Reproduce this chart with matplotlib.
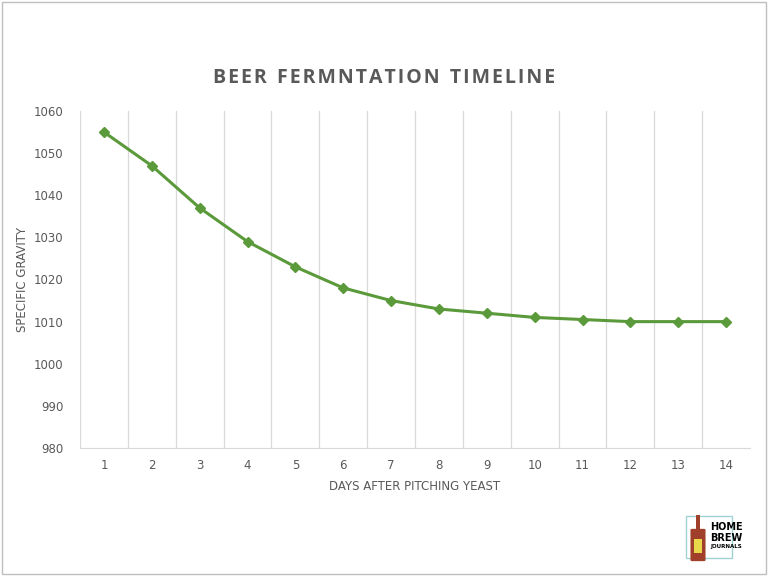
import matplotlib.pyplot as plt
from matplotlib.patches import Rectangle, FancyBboxPatch

days = list(range(1, 15))
gravity = [1055, 1047, 1037, 1029, 1023, 1018, 1015, 1013, 1012, 1011, 1010.5, 1010, 1010, 1010]
y_ticks = list(range(980, 1061, 10))

GREEN = "#5b9a3a"
GREY = "#595959"

fig = plt.figure(figsize=(7.68, 5.76), dpi=100)
fig.patches.append(Rectangle((0.003, 0.003), 0.994, 0.994, transform=fig.transFigure,
                             fill=False, edgecolor="#bfbfbf", linewidth=1))

ax = fig.add_axes([80 / 768, 1 - 448 / 576, 670 / 768, 337 / 576])
ax.plot(days, gravity, color=GREEN, linewidth=2.2, marker="D", markersize=5.5,
        markerfacecolor=GREEN, markeredgecolor=GREEN)

ax.set_xlim(0.5, 14.5)
ax.set_ylim(980, 1060)
ax.set_yticks(y_ticks)
ax.set_xticks(days)
for x in [d + 0.5 for d in range(0, 14)]:
    ax.axvline(x, color="#d9d9d9", linewidth=0.9, zorder=0)

for s in ["top", "right", "left"]:
    ax.spines[s].set_visible(False)
ax.spines["bottom"].set_color("#d9d9d9")
ax.tick_params(length=0, colors=GREY, labelsize=8.5)
ax.tick_params(axis="x", pad=8)
ax.tick_params(axis="y", pad=12)

ax.set_xlabel("DAYS AFTER PITCHING YEAST", color=GREY, fontsize=8.5, labelpad=6)
ax.set_ylabel("SPECIFIC GRAVITY", color=GREY, fontsize=8.5, labelpad=3)
title = "BEER FERMNTATION TIMELINE"
fig.text(0.5, 1 - 78 / 576, "\u200a".join(title).replace("\u200a \u200a", "  "),
         ha="center", va="center",
         fontsize=14, fontweight="bold", color=GREY, family="Open Sans")

# logo
fig.patches.append(Rectangle((686 / 768, 1 - 558 / 576), 46 / 768, 42 / 576,
                             transform=fig.transFigure, fill=False, edgecolor="#9fd3d3", linewidth=1))
fig.patches.append(FancyBboxPatch((692 / 768, 1 - 560 / 576), 12 / 768, 30 / 576,
                                  boxstyle="round,pad=0.002", transform=fig.transFigure,
                                  facecolor="#a0402a", edgecolor="none"))
fig.patches.append(Rectangle((696 / 768, 1 - 530 / 576), 4 / 768, 15 / 576,
                             transform=fig.transFigure, facecolor="#a0402a", edgecolor="none"))
fig.patches.append(Rectangle((694 / 768, 1 - 553 / 576), 8 / 768, 14 / 576,
                             transform=fig.transFigure, facecolor="#e8d84a", edgecolor="none"))
fig.text(710 / 768, 1 - 522 / 576, "HOME", fontsize=7, fontweight="bold", va="top")
fig.text(710 / 768, 1 - 533 / 576, "BREW", fontsize=7, fontweight="bold", va="top")
fig.text(710 / 768, 1 - 544 / 576, "JOURNALS", fontsize=4, fontweight="bold", va="top")

fig.savefig("out.png", dpi=100)
